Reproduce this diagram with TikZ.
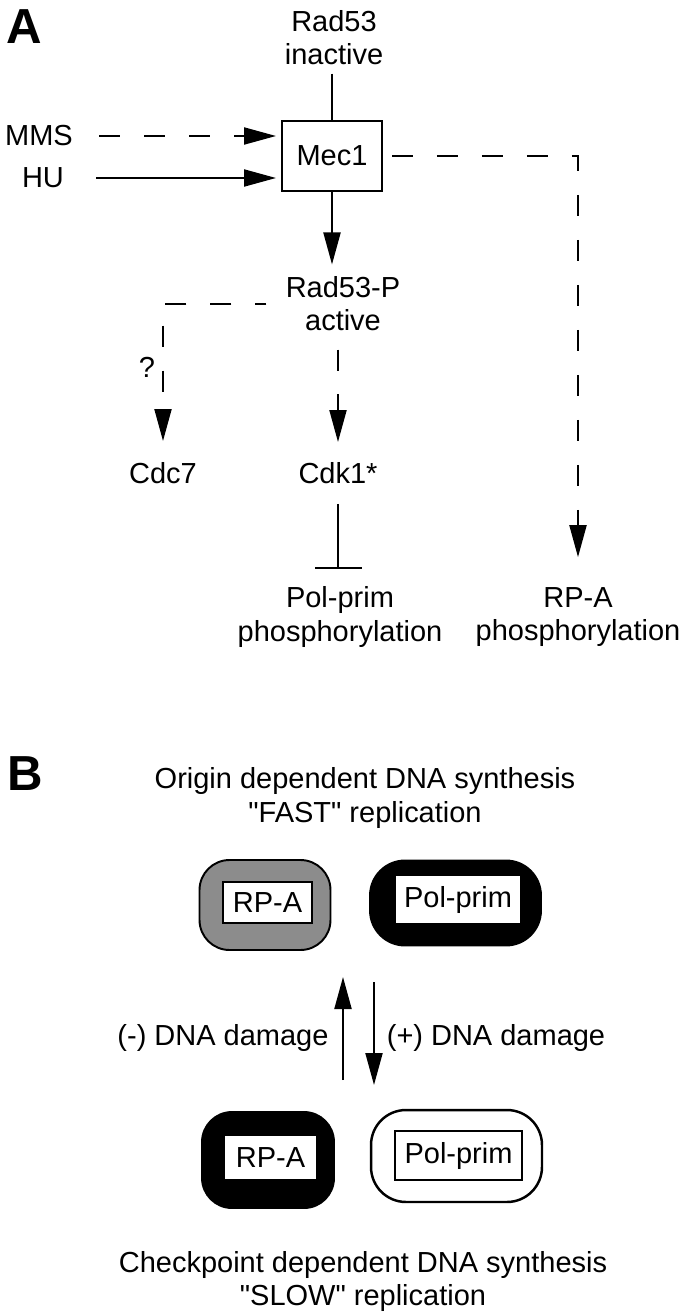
\documentclass[tikz,border=0pt]{standalone}
\usepackage{fontspec}
\setmainfont{Liberation Sans}[Ligatures=TeXOff]
\usetikzlibrary{arrows.meta}
\begin{document}
\begin{tikzpicture}[x=0.02cm,y=-0.02cm,
  txt/.style={font=\fontsize{16.5}{18.8}\selectfont, align=center, inner sep=0pt},
  lab/.style={font=\fontsize{28}{32}\selectfont\bfseries, inner sep=0pt},
  ln/.style={line width=1.15pt},
  arr/.style={ln, -{Triangle[length=0.64cm,width=0.34cm]}},
  dsh/.style={dash pattern=on 0.42cm off 0.48cm},
  inh/.style={ln, -{Bar[width=0.94cm,line width=1.15pt]}},
  outerbox/.style={rounded corners=0.6cm, line width=1.1pt, inner sep=0pt},
  innerbox/.style={txt, draw, fill=white, line width=1.3pt}
]
\useasboundingbox (0,0) rectangle (685,1314);

% ---------- Panel A ----------
\node[lab] (A) at (24,27) {A};
\node[txt] (rad53) at (334,38) {Rad53\\inactive};
\node[txt, draw, line width=1.15pt, minimum width=2cm, minimum height=1.4cm] (mec1) at (332,156) {Mec1};
\node[txt] (mms) at (39,136) {MMS};
\node[txt] (hu) at (43,178) {HU};
\node[txt] (rad53p) at (343,304) {Rad53-P\\active};
\node[txt] (cdc7) at (163,473) {Cdc7};
\node[txt] (cdk1) at (338,473) {Cdk1*};
\node[txt] (q) at (147,367) {?};
\node[txt] (polphos) at (340,617) {Pol-prim\\phosphorylation};
\node[txt] (rpaphos) at (578,617) {RP-A\\phosphorylation};

\draw[ln, shorten <=0.16cm] (mec1.north |- rad53.south) -- (mec1.north);
\draw[arr, dsh, shorten <=0.52cm, shorten >=0.1cm] (mms.east) -- (mec1.west |- mms.east);
\draw[arr, shorten <=0.64cm, shorten >=0.1cm] (hu.east) -- (mec1.west |- hu.east);
\draw[arr, shorten >=0.24cm] (mec1.south) -- (mec1.south |- rad53p.north);
\draw[arr, dsh, shorten <=0.18cm, shorten >=0.6cm] (mec1.east) -| (rpaphos.north);
\draw[arr, dsh, dash phase=0.2cm, shorten <=0.38cm, shorten >=0.42cm] (rad53p.west) -| (cdc7.north);
\draw[arr, dsh, shorten <=0.36cm, shorten >=0.4cm] (rad53p.south -| cdk1.north) -- (cdk1.north);
\draw[inh, shorten <=0.4cm, shorten >=0.36cm] (cdk1.south) -- (polphos.north -| cdk1.south);

% ---------- Panel B ----------
\node[lab] (B) at (25,774) {B};
\node[txt] (fast) at (365,798) {Origin dependent DNA synthesis\\"FAST" replication};

\node[outerbox, draw, fill=black!45, minimum width=2.62cm, minimum height=1.8cm] (rpa1o) at (265,905) {};
\node[innerbox, minimum width=1.78cm, minimum height=0.82cm] (rpa1) at (267.5,902.5) {RP-A};
\node[outerbox, draw, fill=black, rounded corners=0.7cm, minimum width=3.42cm, minimum height=1.7cm] (pol1o) at (455.5,903) {};
\node[innerbox, draw=white, minimum width=2.44cm, minimum height=0.9cm] (pol1) at (458,899.5) {Pol-prim};

\coordinate (upS) at (343,1080);
\coordinate (upE) at (343,977);
\coordinate (dnS) at (374,982);
\coordinate (dnE) at (374,1085);
\draw[arr] (upS) -- (upE);
\draw[arr] (dnS) -- (dnE);
\node[txt] (minus) at (223,1038) {(-) DNA damage};
\node[txt] (plus) at (496,1038) {(+) DNA damage};

\node[outerbox, draw, fill=black, minimum width=2.64cm, minimum height=1.92cm] (rpa2o) at (268,1160) {};
\node[innerbox, draw=white, minimum width=1.78cm, minimum height=0.82cm] (rpa2) at (270.5,1157.5) {RP-A};
\node[outerbox, draw, line width=1.4pt, rounded corners=0.7cm, minimum width=3.42cm, minimum height=1.84cm] (pol2o) at (456.5,1156) {};
\node[innerbox, minimum width=2.54cm, minimum height=0.98cm] (pol2) at (458.5,1155.5) {Pol-prim};

\node[txt] (slow) at (363,1281.5) {Checkpoint dependent DNA synthesis\\"SLOW" replication};
\end{tikzpicture}
\end{document}
